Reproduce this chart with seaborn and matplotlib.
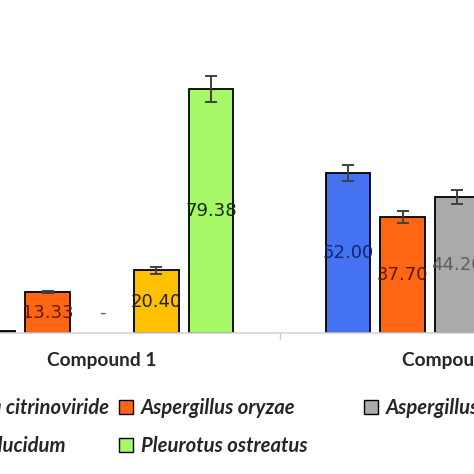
import matplotlib
matplotlib.use("Agg")
import matplotlib.pyplot as plt
import seaborn as sns
import pandas as pd
from matplotlib.patches import Patch

compounds = ["Compound 1", "Compound 2"]
species = ["Trichoderma citrinoviride", "Aspergillus oryzae", "Aspergillus niger",
           "Ganoderma lucidum", "Pleurotus ostreatus"]
# values per species: [Compound 1, Compound 2]
values = {
    "Trichoderma citrinoviride": [0.6, 52.00],
    "Aspergillus oryzae": [13.33, 37.70],
    "Aspergillus niger": [0.0, 44.20],
    "Ganoderma lucidum": [20.40, 31.50],
    "Pleurotus ostreatus": [79.38, 60.10],
}
errors = {
    "Trichoderma citrinoviride": [0.2, 2.6],
    "Aspergillus oryzae": [0.4, 2.0],
    "Aspergillus niger": [0.0, 2.3],
    "Ganoderma lucidum": [1.25, 2.0],
    "Pleurotus ostreatus": [4.2, 3.0],
}
labels = {
    "Trichoderma citrinoviride": ["-", "52.00"],
    "Aspergillus oryzae": ["13.33", "37.70"],
    "Aspergillus niger": ["-", "44.20"],
    "Ganoderma lucidum": ["20.40", "31.50"],
    "Pleurotus ostreatus": ["79.38", "60.10"],
}
bar_colors = ["#4472F0", "#FF6614", "#A8ABAA", "#FFC000", "#A6F866"]
text_colors = ["#13266E", "#5A1A00", "#5E6060", "#2A2000", "#142A03"]

rows = []
for sp in species:
    for c, v in zip(compounds, values[sp]):
        rows.append({"Compound": c, "Species": sp, "Value": v})
df = pd.DataFrame(rows)

sns.set_style("white")
plt.rcParams["font.family"] = ["Lato", "DejaVu Sans"]

fig = plt.figure(figsize=(4.74, 4.74), dpi=100)
ax = fig.add_axes([0, 141 / 474, 1, 333 / 474])

sns.barplot(data=df, x="Compound", y="Value", hue="Species", order=compounds,
            hue_order=species, palette=bar_colors, saturation=1, width=0.7676, gap=0.19,
            edgecolor="black", linewidth=1.3, legend=False, ax=ax, errorbar=None)

for k, (sp, cont) in enumerate(zip(species, ax.containers)):
    for j, bar in enumerate(cont):
        xc = bar.get_x() + bar.get_width() / 2
        v = values[sp][j]
        e = errors[sp][j]
        if v == 0:
            bar.set_visible(False)
        if e > 0:
            ax.errorbar(xc, v, yerr=e, color="#404040", capsize=4,
                        capthick=1.4, elinewidth=1.4, zorder=5)
        ly = v / 2 if v > 2 else 6.5
        ax.text(xc, ly, labels[sp][j], ha="center", va="center",
                fontsize=13, color=text_colors[k], family="DejaVu Sans", zorder=6)

ax.set_xlim(-102 / 355, -102 / 355 + 474 / 355)
ax.set_ylim(0, 333 / 3.07)
ax.set_xlabel("")
ax.set_ylabel("")
ax.set_yticks([])
ax.set_xticks([0, 1])
ax.set_xticklabels(compounds, fontsize=13.8, fontweight="bold")
ax.set_xticks([0.5], minor=True)
ax.tick_params(axis="x", which="major", length=0, pad=14)
ax.tick_params(axis="x", which="minor", length=4, color="#c8c8c8", width=1, bottom=True)
for s in ["top", "left", "right"]:
    ax.spines[s].set_visible(False)
ax.spines["bottom"].set_color("#d4d4d4")
ax.spines["bottom"].set_linewidth(1.2)


def handle(c):
    return Patch(facecolor=c, edgecolor="black", linewidth=1.0)


leg_kw = dict(frameon=False, prop={"weight": "bold", "style": "italic", "size": 14.6},
              handlelength=0.7, handleheight=0.7, handletextpad=0.4,
              labelspacing=0.9, borderpad=0, borderaxespad=0)
top = 1 - 398 / 474
fig.legend([handle(bar_colors[0]), handle(bar_colors[3])], [species[0], species[3]],
           loc="upper right", bbox_to_anchor=(109 / 474, top), **leg_kw)
fig.legend([handle(bar_colors[1]), handle(bar_colors[4])], [species[1], species[4]],
           loc="upper left", bbox_to_anchor=(119 / 474, top), **leg_kw)
fig.legend([handle(bar_colors[2])], [species[2]],
           loc="upper left", bbox_to_anchor=(364 / 474, top), **leg_kw)

fig.savefig("out.png", dpi=100)
